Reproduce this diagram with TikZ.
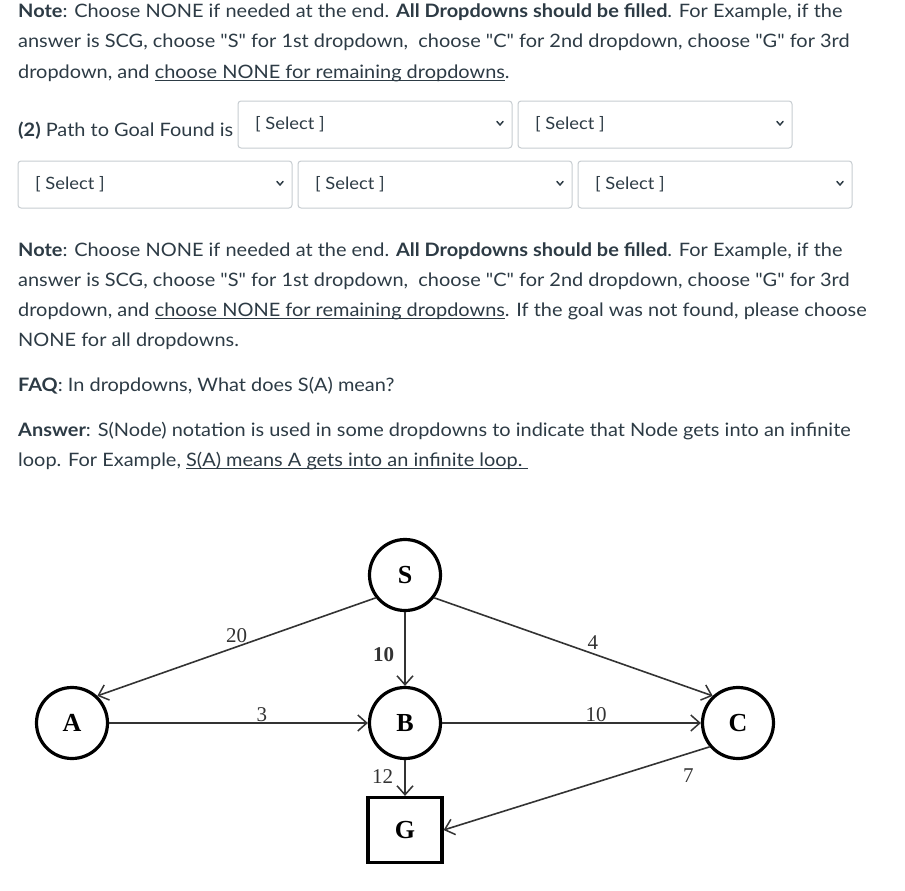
\documentclass[tikz,border=0pt]{standalone}
\usepackage{fontspec}
\setmainfont{Lato}[Ligatures=TeXOff,FakeStretch=1.078]
\newfontfamily\graphfont{Liberation Serif}
\usetikzlibrary{arrows.meta}
\definecolor{canvastext}{HTML}{2D3B45}
\definecolor{selborder}{HTML}{C7CDD1}
\definecolor{edgegray}{HTML}{333333}
% underline at a fixed depth
\newsavebox\ulbox
\newcommand{\uln}[1]{\sbox\ulbox{#1}\rlap{\rule[-3pt]{\wd\ulbox}{1.1pt}}\usebox\ulbox}
\tikzset{
  txtline/.style={anchor=base west,inner sep=0pt,text=canvastext,
                  font=\fontsize{18.5}{22}\selectfont},
  selbox/.style={draw=selborder,line width=1pt,rounded corners=3pt,
                 minimum width=274pt,minimum height=47pt,anchor=north west,
                 inner sep=0pt,outer sep=0pt},
  seltext/.style={anchor=base west,inner sep=0pt,text=canvastext,
                  font=\fontsize{17}{20}\selectfont},
  chevron/.style={draw=canvastext,line width=1.5pt,line cap=round,line join=round},
  vertex/.style={circle,draw=black,line width=3.2pt,minimum size=71pt,inner sep=0pt,
                 font=\graphfont\fontsize{26}{26}\selectfont\bfseries},
  goalbox/.style={rectangle,draw=black,line width=3.2pt,minimum width=74pt,
                  minimum height=65pt,inner sep=0pt,
                  font=\graphfont\fontsize{26}{26}\selectfont\bfseries},
  edge/.style={draw=edgegray,line width=1.6pt,
               -{Straight Barb[length=9pt,width=16pt,line width=1.5pt]}},
  wlabel/.style={font=\graphfont\fontsize{21}{21}\selectfont,inner sep=1pt,
                 text=edgegray}
}
% one dropdown: name, left edge, top edge
\newcommand{\dropdown}[3]{%
  \node[selbox] (#1) at (#2,#3) {};
  \node[seltext] (#1-t) at ([xshift=17pt,yshift=-5pt]#1.west) {[ Select ]};
  \draw[chevron] ([xshift=-15pt,yshift=3pt]#1.east) -- ++(3,3.5) -- ++(3,-3.5);
}

\begin{document}
\begin{tikzpicture}[x=1pt,y=-1pt]
\useasboundingbox[fill=white] (0,0) rectangle (905,891);

% first note
\node[txtline] (n1) at (18,18)
  {\textbf{Note}: Choose NONE if needed at the end. \textbf{All Dropdowns should be filled}. For Example, if the};
\node[txtline] (n2) at (18,48)
  {answer is SCG, choose "S" for 1st dropdown,\ \ choose "C" for 2nd dropdown, choose "G" for 3rd};
\node[txtline] (n3) at (18,78)
  {dropdown, and \uln{choose NONE for remaining dropdowns}.};

% dropdowns
\node[txtline] (q2) at (18,136) {\textbf{(2)} Path to Goal Found is};
\dropdown{d1}{238}{101}
\dropdown{d2}{518}{101}
\dropdown{d3}{18}{161}
\dropdown{d4}{298}{161}
\dropdown{d5}{578}{161}

% second note
\node[txtline] (m1) at (18,256)
  {\textbf{Note}: Choose NONE if needed at the end. \textbf{All Dropdowns should be filled}. For Example, if the};
\node[txtline] (m2) at (18,286)
  {answer is SCG, choose "S" for 1st dropdown,\ \ choose "C" for 2nd dropdown, choose "G" for 3rd};
\node[txtline] (m3) at (18,316)
  {dropdown, and \uln{choose NONE for remaining dropdowns}. If the goal was not found, please choose};
\node[txtline] (m4) at (18,346) {NONE for all dropdowns.};
\node[txtline] (faq) at (18,391) {\textbf{FAQ}: In dropdowns, What does S(A) mean?};
\node[txtline] (ans1) at (18,436)
  {\textbf{Answer}: S(Node) notation is used in some dropdowns to indicate that Node gets into an infinite};
\node[txtline] (ans2) at (18,466)
  {loop. For Example, \uln{S(A) means A gets into an infinite loop.\ }};

% graph
\node[vertex] (S) at (405,575) {S};
\node[vertex] (A) at (72,723) {A};
\node[vertex] (B) at (405,723) {B};
\node[vertex] (C) at (738,723) {C};
\node[goalbox] (G) at (405,830) {G};

\draw[edge] (S.218) -- (A.47) node[wlabel,pos=0.5,above=2pt] {20};
\draw[edge] (S.322) -- (C.133) node[wlabel,pos=0.57,above=2pt] {4};
\draw[edge] (S.south) -- (B.north) node[wlabel,pos=0.58,left=9pt,font=\graphfont\fontsize{21}{21}\selectfont\bfseries] {10};
\draw[edge] (A.east) -- (B.west) node[wlabel,pos=0.59,above=0pt] {3};
\draw[edge] (B.east) -- (C.west) node[wlabel,pos=0.595,above=0pt] {10};
\draw[edge] (B.south) -- (G.north) node[wlabel,pos=0.45,left=10pt] {12};
\draw[edge] (C.220) -- (G.east) node[wlabel,pos=0.08,below=13pt] {7};
\end{tikzpicture}
\end{document}
